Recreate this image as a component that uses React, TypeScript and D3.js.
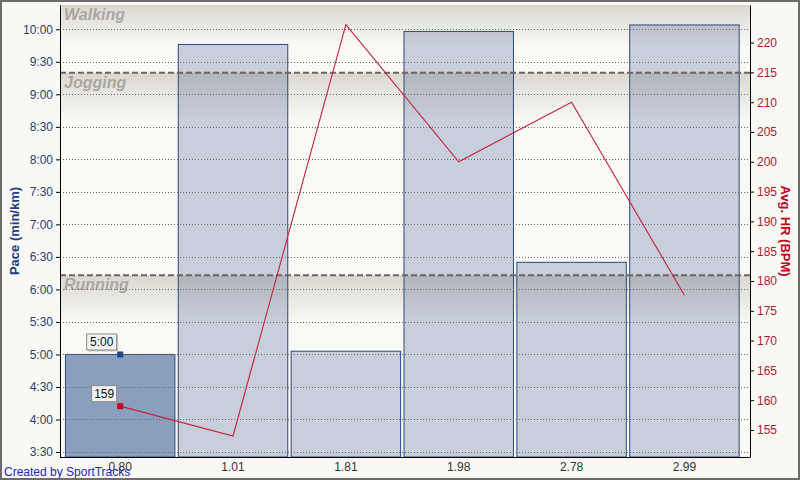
import React, { useEffect, useRef } from 'react';
import * as d3 from 'd3';

// split distances (km) along the x axis
const distances = ['0.80', '1.01', '1.81', '1.98', '2.78', '2.99'];
// pace per split in seconds per km
const paceSeconds = [300, 586, 303, 598, 385, 604];
// average heart rate per split
const avgHr = [159, 154, 223, 200, 210, 177.6];
// pace zones, top to bottom, with boundaries in seconds
const zoneNames = ['Walking', 'Jogging', 'Running'];
const zoneBounds = [560, 373];
const paceTicks = [210, 240, 270, 300, 330, 360, 390, 420, 450, 480, 510, 540, 570, 600];
const hrTicks = [155, 160, 165, 170, 175, 180, 185, 190, 195, 200, 205, 210, 215, 220];
const selectedIndex = 0;

const fmtPace = (s: number) => `${Math.floor(s / 60)}:${String(Math.round(s % 60)).padStart(2, '0')}`;

const App: React.FC = () => {
  const svgRef = useRef<SVGSVGElement>(null);

  useEffect(() => {
    if (!svgRef.current) return;
    const W = 800, H = 480;
    const left = 60, right = 750, top = 5, bottom = 457;
    const font = '"Liberation Sans", Arial, sans-serif';

    const svg = d3.select(svgRef.current);
    svg.selectAll('*').remove();

    const x = d3.scaleBand<string>().domain(distances).range([64.3, 740.3]).paddingInner(0.03).paddingOuter(0.01);
    const y = d3.scaleLinear().domain([205.4, 622.4]).range([bottom, top]);
    const yHr = d3.scaleLinear().domain([150.47, 226.3]).range([bottom, top]);

    const defs = svg.append('defs');
    const grad = defs.append('linearGradient').attr('id', 'zone-grad')
      .attr('x1', '0%').attr('y1', '0%').attr('x2', '0%').attr('y2', '100%');
    grad.append('stop').attr('offset', '0%').attr('stop-color', '#5a5040').attr('stop-opacity', 0.2);
    grad.append('stop').attr('offset', '100%').attr('stop-color', '#5a5040').attr('stop-opacity', 0);

    // background + frame
    svg.append('rect').attr('x', 0).attr('y', 0).attr('width', W).attr('height', H).attr('fill', '#f9f8f4');
    svg.append('rect').attr('x', left).attr('y', top).attr('width', right - left).attr('height', bottom - top).attr('fill', '#faf9f5');

    // bars
    svg.selectAll('.bar')
      .data(distances)
      .enter()
      .append('rect')
      .attr('x', d => x(d)!)
      .attr('y', (d, i) => y(paceSeconds[i]))
      .attr('width', x.bandwidth())
      .attr('height', (d, i) => bottom - y(paceSeconds[i]))
      .attr('fill', (d, i) => i === selectedIndex ? '#8a9fbd' : '#c8cedb')
      .attr('stroke', '#2c4a7e')
      .attr('stroke-width', 1);

    // zone bands (drawn over bars)
    const zoneTops = [y.domain()[1], ...zoneBounds];
    zoneTops.forEach((z, i) => {
      const zy = y(z);
      svg.append('rect').attr('x', left).attr('y', zy).attr('width', right - left)
        .attr('height', i === 0 ? 40 : 48).attr('fill', 'url(#zone-grad)');
      if (i > 0) {
        svg.append('line').attr('x1', left).attr('x2', right).attr('y1', zy).attr('y2', zy)
          .attr('stroke', '#6e6460').attr('stroke-width', 2).attr('stroke-dasharray', '6,3');
      }
      svg.append('text').attr('x', left + 4).attr('y', zy + 15)
        .attr('font-family', font).attr('font-size', 16).attr('font-weight', 'bold').attr('font-style', 'italic')
        .attr('fill', '#a09c98').attr('fill-opacity', 0.85)
        .text(zoneNames[i]);
    });

    // gridlines
    svg.selectAll('.grid')
      .data(paceTicks)
      .enter()
      .append('line')
      .attr('x1', left).attr('x2', right)
      .attr('y1', d => Math.round(y(d)) + 0.5).attr('y2', d => Math.round(y(d)) + 0.5)
      .attr('stroke', '#6a6a6a').attr('stroke-width', 1).attr('stroke-dasharray', '1,2');

    // axes
    const gl = svg.append('g').attr('transform', `translate(${left},0)`)
      .call(d3.axisLeft(y).tickValues(paceTicks).tickFormat(d => fmtPace(+d)).tickSize(4).tickSizeOuter(0));
    gl.select('.domain').attr('stroke', '#000');
    gl.selectAll('text').attr('fill', '#2b3f6c').attr('font-family', font).attr('font-size', 12);

    const gr = svg.append('g').attr('transform', `translate(${right},0)`)
      .call(d3.axisRight(yHr).tickValues(hrTicks).tickSize(4).tickSizeOuter(0));
    gr.select('.domain').attr('stroke', '#000');
    gr.selectAll('text').attr('fill', '#b01c2c').attr('font-family', font).attr('font-size', 12);

    const gb = svg.append('g').attr('transform', `translate(0,${bottom})`)
      .call(d3.axisBottom(x).tickSize(0).tickSizeOuter(0));
    gb.select('.domain').attr('d', `M${left},0.5H${right}`).attr('stroke', '#000');
    gb.selectAll('text').attr('fill', '#333').attr('font-family', font).attr('font-size', 12).attr('dy', '0.95em');

    // axis titles
    svg.append('text').attr('transform', `translate(19,${231}) rotate(-90)`).attr('text-anchor', 'middle')
      .attr('font-family', font).attr('font-size', 13).attr('font-weight', 'bold').attr('fill', '#1f3c88')
      .text('Pace (min/km)');
    svg.append('text').attr('transform', `translate(781,${231}) rotate(90)`).attr('text-anchor', 'middle')
      .attr('font-family', font).attr('font-size', 13).attr('font-weight', 'bold').attr('fill', '#c0001c')
      .text('Avg. HR (BPM)');

    // HR line
    const line = d3.line<number>()
      .x((d, i) => x(distances[i])! + x.bandwidth() / 2)
      .y(d => yHr(d));
    svg.append('path').datum(avgHr).attr('fill', 'none').attr('stroke', '#c4223c').attr('stroke-width', 1.1).attr('d', line);

    // selected markers + labels
    const cx = x(distances[selectedIndex])! + x.bandwidth() / 2;
    const marks = [
      { v: y(paceSeconds[selectedIndex]), color: '#24467e', label: fmtPace(paceSeconds[selectedIndex]) },
      { v: yHr(avgHr[selectedIndex]), color: '#c8001a', label: String(Math.round(avgHr[selectedIndex])) },
    ];
    marks.forEach(m => {
      svg.append('rect').attr('x', cx - 3).attr('y', m.v - 3).attr('width', 6).attr('height', 6).attr('fill', m.color);
      const tw = m.label.length * 5 + 10;
      const bx = cx - 4 - tw, by = m.v - 21;
      svg.append('rect').attr('x', bx + 2).attr('y', by + 2).attr('width', tw).attr('height', 16).attr('fill', '#9a9a9a').attr('opacity', 0.5);
      svg.append('rect').attr('x', bx + 0.5).attr('y', by + 0.5).attr('width', tw).attr('height', 16)
        .attr('fill', '#f2f2f0').attr('stroke', '#8a8a8a');
      svg.append('text').attr('x', bx + tw / 2 + 0.5).attr('y', by + 13).attr('text-anchor', 'middle')
        .attr('font-family', font).attr('font-size', 12).attr('fill', '#111').text(m.label);
    });

    svg.append('text').attr('x', 4).attr('y', 476).attr('font-family', font).attr('font-size', 12)
      .attr('fill', '#2626c4').text('Created by SportTracks');

    // outer frame
    svg.append('rect').attr('x', 1).attr('y', 1).attr('width', W - 2).attr('height', H - 2)
      .attr('fill', 'none').attr('stroke', '#6c6c6c').attr('stroke-width', 2);
  }, []);

  return (
    <div style={{ position: 'absolute', left: 0, top: 0, width: 800, height: 480 }}>
      <svg ref={svgRef} width={800} height={480} style={{ display: 'block' }} />
    </div>
  );
};

export default App;
